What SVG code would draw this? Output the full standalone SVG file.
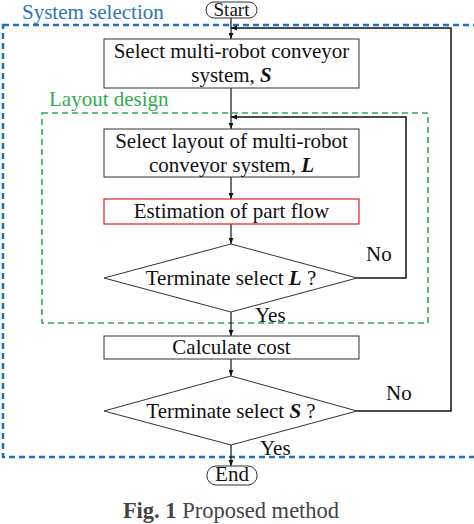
<svg xmlns="http://www.w3.org/2000/svg" width="474" height="524" viewBox="0 0 474 524">
<style>
text{font-family:"Liberation Serif","Times New Roman",serif;fill:#111}
.n{font-size:21px;text-anchor:middle}
.lb{font-size:21px}
.box{fill:#fff;stroke:#333;stroke-width:1}
.ln{fill:none;stroke:#111;stroke-width:1.2}
.fb{fill:none;stroke:#111;stroke-width:1.5}
</style>
<defs>
<marker id="ah" viewBox="0 0 10 10" refX="10" refY="5" markerWidth="6" markerHeight="6" orient="auto" markerUnits="userSpaceOnUse"><path d="M0,1 L10,5 L0,9 z" fill="#111"/></marker>
</defs>
<rect width="474" height="524" fill="#fff"/>
<g id="system-selection">
<rect x="3" y="25" width="490" height="432" fill="none" stroke="#1f6fc0" stroke-width="2.5" stroke-dasharray="6,4"/>
<text x="22" y="18.5" class="lb" style="fill:#2e74b8">System selection</text>
</g>
<g id="layout-design">
<rect x="42" y="113" width="386" height="210" fill="none" stroke="#2eaa50" stroke-width="1.6" stroke-dasharray="6,4"/>
<text x="49" y="106" class="lb" style="fill:#33aa55">Layout design</text>
</g>
<g id="connectors">
<line class="ln" x1="231" y1="18" x2="231" y2="39" marker-end="url(#ah)"/>
<polyline class="fb" points="357,411 451,411 451,28 231,28" marker-end="url(#ah)"/>
<line class="ln" x1="231" y1="88" x2="231" y2="129" marker-end="url(#ah)"/>
<polyline class="fb" points="357,278 406,278 406,117 231,117" marker-end="url(#ah)"/>
<line class="ln" x1="231" y1="177" x2="231" y2="199" marker-end="url(#ah)"/>
<line class="ln" x1="231" y1="224" x2="231" y2="244" marker-end="url(#ah)"/>
<line class="ln" x1="231" y1="312" x2="231" y2="336" marker-end="url(#ah)"/>
<line class="ln" x1="231" y1="359" x2="231" y2="376" marker-end="url(#ah)"/>
<line class="ln" x1="231" y1="445" x2="231" y2="466" marker-end="url(#ah)"/>
<text x="366" y="261" class="lb">No</text>
<text x="386" y="400" class="lb">No</text>
<text x="255" y="322" class="lb">Yes</text>
<text x="260" y="455" class="lb">Yes</text>
</g>
<g id="start">
<rect x="206" y="2" width="51" height="16" rx="8" class="box"/>
<text x="231.5" y="16" style="font-size:19px;text-anchor:middle">Start</text>
</g>
<g id="select-s">
<rect x="104" y="39" width="255" height="49" class="box"/>
<text x="231.5" y="58" class="n">Select multi-robot conveyor</text>
<text x="231.5" y="82" class="n">system, <tspan font-weight="bold" font-style="italic">S</tspan></text>
</g>
<g id="select-l">
<rect x="104" y="129" width="255" height="48" class="box"/>
<text x="231.5" y="148" class="n">Select layout of multi-robot</text>
<text x="231.5" y="172" class="n">conveyor system, <tspan font-weight="bold" font-style="italic">L</tspan></text>
</g>
<g id="estimation">
<rect x="104" y="199" width="255" height="25" fill="#fff" stroke="#e02020" stroke-width="1.2"/>
<text x="231.5" y="218" class="n">Estimation of part flow</text>
</g>
<g id="terminate-l">
<polygon points="231,244 357,278 231,312 104,278" class="box"/>
<text x="231" y="285" class="n">Terminate select <tspan font-weight="bold" font-style="italic">L</tspan> ?</text>
</g>
<g id="calculate-cost">
<rect x="104" y="336" width="255" height="23" class="box"/>
<text x="231.5" y="354" class="n">Calculate cost</text>
</g>
<g id="terminate-s">
<polygon points="231,376 357,411 231,445 104,411" class="box"/>
<text x="231" y="418" class="n">Terminate select <tspan font-weight="bold" font-style="italic">S</tspan> ?</text>
</g>
<g id="end">
<rect x="207" y="466" width="50" height="19" rx="9" class="box"/>
<text x="232" y="481" class="n">End</text>
</g>
<text x="231" y="518" style="font-size:22.5px;text-anchor:middle;fill:#444"><tspan font-weight="bold">Fig. 1</tspan> Proposed method</text>
</svg>
